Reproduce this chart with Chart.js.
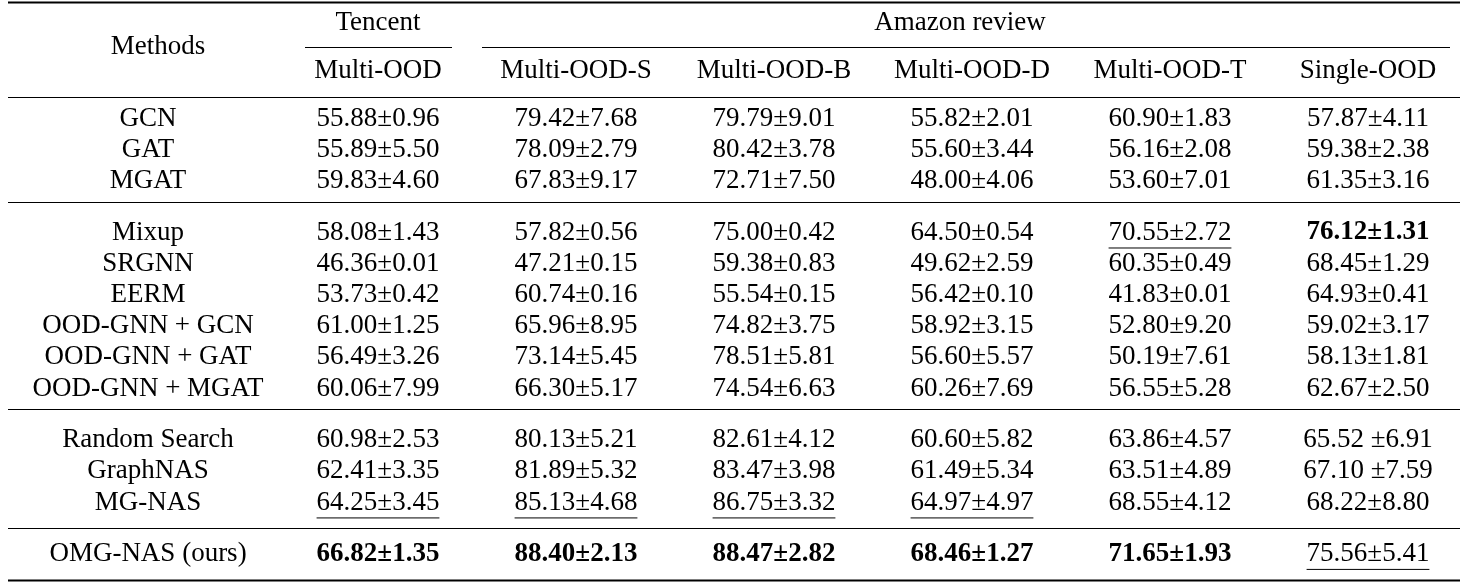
<!DOCTYPE html>
<html>
<head>
<meta charset="utf-8">
<script src="https://cdn.jsdelivr.net/npm/chart.js@4"></script>
<style>
html, body { margin: 0; padding: 0; background: #fff; }
#wrap { width: 1467px; height: 582px; }
</style>
</head>
<body>
<div id="wrap"><canvas id="myTable"></canvas></div>
<script>
// column keys and headers
const columns = ['Multi-OOD', 'Multi-OOD-S', 'Multi-OOD-B', 'Multi-OOD-D', 'Multi-OOD-T', 'Single-OOD'];
const methods = ['GCN', 'GAT', 'MGAT', 'Mixup', 'SRGNN', 'EERM', 'OOD-GNN + GCN', 'OOD-GNN + GAT',
    'OOD-GNN + MGAT', 'Random Search', 'GraphNAS', 'MG-NAS', 'OMG-NAS (ours)'];
const groups = [0, 0, 0, 1, 1, 1, 1, 1, 1, 2, 2, 2, 3];

// values per column
const tencent_multi = ['55.88±0.96', '55.89±5.50', '59.83±4.60', '58.08±1.43', '46.36±0.01', '53.73±0.42',
    '61.00±1.25', '56.49±3.26', '60.06±7.99', '60.98±2.53', '62.41±3.35', '64.25±3.45', '66.82±1.35'];
const amazon_s = ['79.42±7.68', '78.09±2.79', '67.83±9.17', '57.82±0.56', '47.21±0.15', '60.74±0.16',
    '65.96±8.95', '73.14±5.45', '66.30±5.17', '80.13±5.21', '81.89±5.32', '85.13±4.68', '88.40±2.13'];
const amazon_b = ['79.79±9.01', '80.42±3.78', '72.71±7.50', '75.00±0.42', '59.38±0.83', '55.54±0.15',
    '74.82±3.75', '78.51±5.81', '74.54±6.63', '82.61±4.12', '83.47±3.98', '86.75±3.32', '88.47±2.82'];
const amazon_d = ['55.82±2.01', '55.60±3.44', '48.00±4.06', '64.50±0.54', '49.62±2.59', '56.42±0.10',
    '58.92±3.15', '56.60±5.57', '60.26±7.69', '60.60±5.82', '61.49±5.34', '64.97±4.97', '68.46±1.27'];
const amazon_t = ['60.90±1.83', '56.16±2.08', '53.60±7.01', '70.55±2.72', '60.35±0.49', '41.83±0.01',
    '52.80±9.20', '50.19±7.61', '56.55±5.28', '63.86±4.57', '63.51±4.89', '68.55±4.12', '71.65±1.93'];
const single_ood = ['57.87±4.11', '59.38±2.38', '61.35±3.16', '76.12±1.31', '68.45±1.29', '64.93±0.41',
    '59.02±3.17', '58.13±1.81', '62.67±2.50', '65.52 ±6.91', '67.10 ±7.59', '68.22±8.80', '75.56±5.41'];
const values = [tencent_multi, amazon_s, amazon_b, amazon_d, amazon_t, single_ood];

// "row,col" markers
const bold_cells = ['12,0', '12,1', '12,2', '12,3', '12,4', '3,5'];
const underline_cells = ['11,0', '11,1', '11,2', '11,3', '3,4', '12,5'];

function row_pos(i) { return i + groups[i] * 0.65; }

const FONT = '"Liberation Serif", "DejaVu Serif", serif';
const SIZE = '27px ';

const tablePlugin = {
    id: 'tablePlugin',
    afterDraw(chart) {
        const ctx = chart.ctx;
        const x = chart.scales.x, y = chart.scales.y;
        ctx.save();
        ctx.fillStyle = '#000';
        ctx.strokeStyle = '#000';
        ctx.textAlign = 'center';
        ctx.textBaseline = 'middle';

        const hline = (v, w, x0, x1) => {
            ctx.lineWidth = w;
            ctx.beginPath();
            const py = Math.round(y.getPixelForValue(v)) + 0.5;
            ctx.moveTo(x0, py); ctx.lineTo(x1, py); ctx.stroke();
        };
        hline(-3.72, 2, 8, 1460);
        hline(-0.7, 1.2, 8, 1460);
        hline(2.68, 1.2, 8, 1460);
        hline(9.32, 1.2, 8, 1460);
        hline(13.12, 1.2, 8, 1460);
        hline(14.78, 2, 8, 1460);
        hline(-2.3, 1, 305, 452);
        hline(-2.3, 1, 482, 1450);

        ctx.font = SIZE + FONT;
        ctx.fillText('Methods', 158, y.getPixelForValue(-2.3));
        ctx.fillText('Tencent', 378, y.getPixelForValue(-3.07));
        ctx.fillText('Amazon review', 960, y.getPixelForValue(-3.07));
        columns.forEach((c, j) => ctx.fillText(c, x.getPixelForValue(j), y.getPixelForValue(-1.52)));

        methods.forEach((m, i) => {
            const py = y.getPixelForValue(row_pos(i));
            ctx.font = SIZE + FONT;
            ctx.fillText(m, 148, py);
            values.forEach((col, j) => {
                const key = i + ',' + j;
                ctx.font = (bold_cells.includes(key) ? 'bold ' : '') + SIZE + FONT;
                const px = x.getPixelForValue(j);
                ctx.fillText(col[i], px, py);
                if (underline_cells.includes(key)) {
                    const w = ctx.measureText(col[i]).width;
                    ctx.lineWidth = 1;
                    ctx.beginPath();
                    ctx.moveTo(px - w / 2, py + 15.5); ctx.lineTo(px + w / 2, py + 15.5);
                    ctx.stroke();
                }
            });
        });
        ctx.restore();
    }
};

const config = {
    type: 'line',
    data: { labels: columns, datasets: [] },
    options: {
        responsive: true,
        maintainAspectRatio: false,
        animation: false,
        layout: { padding: { left: 279, right: 0, top: 0, bottom: 0 } },
        plugins: { legend: { display: false }, tooltip: { enabled: false } },
        scales: {
            x: { type: 'category', offset: true, display: false },
            y: { type: 'linear', reverse: true, min: -3.8, max: 14.85, display: false }
        }
    },
    plugins: [tablePlugin]
};
new Chart(document.getElementById('myTable').getContext('2d'), config);
</script>
</body>
</html>
